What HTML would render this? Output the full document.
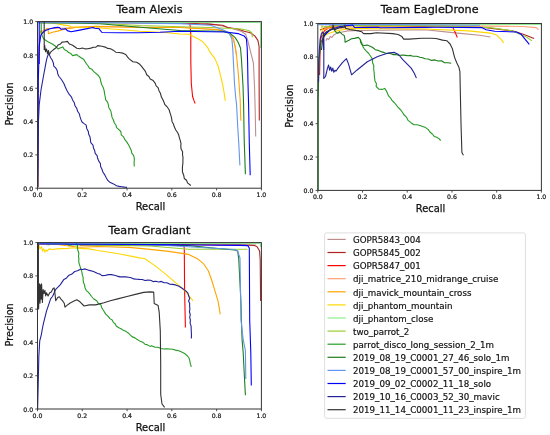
<!DOCTYPE html><html><head><meta charset="utf-8"><style>html,body{margin:0;padding:0;background:#fff;}svg{display:block}</style></head><body>
<svg width="550" height="435" viewBox="0 0 550 435" font-family='"DejaVu Sans","Liberation Sans",sans-serif'>
<rect width="550" height="435" fill="#fff"/>
<g fill="none" stroke-width="1.1" stroke-linejoin="round" stroke-linecap="butt">
<polyline stroke="#bc8f8f" points="38.0,21.9 200.0,22.5 215.0,24.5 225.8,26.7 241.1,31.3 245.7,34.3 247.6,40.0 251.1,53.8 253.4,63.0 254.5,86.0 255.2,110.0 255.7,136.6"/>
<polyline stroke="#b22222" points="38.0,22.0 180.0,22.9 195.3,23.6 210.5,24.4 222.8,25.2 227.3,27.5 238.0,29.0 244.1,31.3 250.3,32.8 254.8,35.9 257.9,40.4 259.1,46.5 259.1,80.0 259.3,120.5"/>
<polyline stroke="#ff0000" points="38.5,22.3 189.7,23.0 190.4,28.0 190.8,35.5 190.8,61.6 191.3,83.5 192.6,96.5 194.1,100.9 195.2,103.5"/>
<polyline stroke="#ffa07a" points="40.0,32.0 48.0,28.5 65.6,28.1 80.9,27.0 100.0,26.6 140.0,27.3 180.0,27.3 218.0,29.5 228.7,32.6 233.3,38.7 235.3,48.0 236.3,55.0"/>
<polyline stroke="#ffa500" points="38.3,187.0 38.3,60.0 39.8,34.4 40.4,31.1 43.0,33.0 46.4,28.9 48.0,28.4 48.5,33.8 52.4,32.2 57.8,31.1 63.3,29.5 68.7,28.4 74.2,27.8 79.6,27.3 96.0,26.2 140.0,27.5 180.0,27.5 218.2,29.7 228.9,32.8 233.5,38.9 235.5,48.0 236.5,55.0 238.4,74.5 240.2,100.0 240.7,118.2 241.0,120.7"/>
<polyline stroke="#ffd700" points="38.5,22.5 52.4,22.9 57.8,24.0 64.4,25.1 68.7,25.6 70.9,26.7 100.0,28.0 140.0,31.3 165.0,32.5 180.0,34.0 189.0,34.3 198.3,38.9 203.0,42.0 207.5,47.3 210.5,52.9 214.8,58.4 218.1,66.0 220.3,74.7 222.5,83.5 224.0,92.2 225.3,100.9"/>
<polyline stroke="#90ee90" points="37.8,22.5 150.0,22.5 260.4,22.5 260.5,30.0 260.5,48.0"/>
<polyline stroke="#9acd32" points="38.5,22.8 100.0,23.3 140.0,25.5 180.0,26.7 210.5,27.5 225.8,28.2 241.1,29.0 248.7,30.5 251.8,32.8 252.5,37.4"/>
<polyline stroke="#259b25" points="41.2,21.8 41.2,33.4 42.5,36.5 43.6,38.7 45.6,40.2 48.5,42.1 52.3,44.0 55.2,46.0 58.1,48.9 60.0,47.9 62.9,46.9 64.3,49.4 66.6,50.7 68.5,52.5 70.9,53.6 72.6,55.6 76.8,54.6 78.8,56.3 81.0,57.7 83.6,59.3 85.2,61.9 86.6,64.0 88.2,66.0 89.4,68.2 91.8,69.2 93.5,71.3 95.9,73.4 98.4,75.5 100.2,78.4 100.8,81.8 101.9,85.0 103.4,87.9 104.2,90.9 104.6,94.0 105.3,97.1 105.7,99.8 107.6,102.1 108.3,104.7 108.8,107.4 110.8,111.0 111.5,114.1 112.0,117.2 113.4,120.0 114.4,123.0 115.9,125.0 116.6,127.6 118.6,129.3 120.8,131.5 121.3,134.8 123.6,136.9 124.9,139.7 126.9,142.1 128.5,144.7 129.9,147.4 131.2,150.2 131.8,153.1 133.7,155.6 134.3,158.5 134.2,161.2 134.1,163.8 134.3,166.5"/>
<polyline stroke="#1b7d1b" points="39.0,22.8 80.0,23.3 100.0,23.8 140.0,27.3 180.0,30.5 222.8,31.3 230.4,33.6 235.0,37.4 238.0,42.0 240.5,48.0 241.5,60.0 243.0,86.0 243.6,105.0 244.2,140.0 245.4,174.2"/>
<polyline stroke="#6495ed" points="38.5,22.8 100.0,22.6 180.0,23.6 210.5,25.2 222.8,29.7 228.9,32.8 231.9,38.9 232.7,48.0 234.5,83.5 235.6,96.5 236.6,105.0 237.7,126.2 238.8,143.6 239.9,165.5"/>
<polyline stroke="#0000ff" points="37.8,187.0 38.3,80.0 39.3,45.3 40.8,35.4 43.0,32.2 45.6,30.5 50.0,28.8 55.0,27.6 58.0,27.2 59.5,27.5 61.0,29.3 65.6,28.7 67.2,30.6 71.0,31.7 77.1,30.6 84.7,29.1 93.1,27.5 94.6,28.3 99.2,28.7 100.0,30.2 102.0,32.5 120.0,32.8 138.6,32.8 160.0,32.3 180.0,31.3 225.8,32.0 238.0,33.6 244.1,35.9 246.4,38.9 247.2,48.0 247.6,61.6 248.0,83.5 248.6,105.0 249.3,143.6 250.2,175.3"/>
<polyline stroke="#0000ff" points="39.2,22.0 39.2,64.0"/>
<polyline stroke="#22229a" points="37.6,187.5 38.5,120.0 39.2,105.0 41.0,90.0 43.4,76.5 46.5,59.8 47.4,56.6 48.6,53.5 49.6,55.6 50.7,57.7 52.3,60.3 53.4,63.1 53.8,66.1 55.9,68.2 57.3,70.8 57.7,73.8 59.0,76.5 60.7,78.5 62.2,80.7 64.0,83.7 65.3,87.0 66.8,90.2 68.5,93.3 70.1,95.3 71.6,97.4 72.6,100.0 74.3,102.7 75.0,105.8 76.8,108.4 77.6,111.3 79.3,113.8 80.0,116.7 80.9,119.4 82.0,122.0 84.1,123.6 86.2,125.1 86.7,128.4 88.3,131.4 88.7,134.3 90.0,136.9 90.4,139.7 90.8,142.7 93.0,145.1 93.5,148.1 94.7,150.7 95.2,153.4 97.1,155.7 97.7,158.5 98.8,161.1 100.4,163.5 100.6,166.5 101.9,169.0 102.9,172.0 104.6,174.6 106.1,177.4 107.8,180.4 110.3,182.6 113.5,183.9 116.5,185.7 119.1,186.4 121.7,186.7 124.4,187.1 127.0,187.4"/>
<polyline stroke="#333333" points="44.2,21.5 44.2,49.8 44.6,45.0 45.6,51.8 46.5,49.0 47.1,51.3 47.5,53.7 48.5,50.5 49.4,54.6 50.9,51.8 53.3,49.8 56.1,47.8 58.1,45.0 60.4,44.1 62.0,42.1 64.3,42.0 67.4,41.4 69.5,44.1 72.6,45.2 74.7,46.7 76.8,48.3 79.6,48.7 82.4,48.0 85.2,48.9 88.0,48.7 90.8,48.1 93.5,47.3 95.9,47.1 97.7,45.6 101.9,46.2 105.3,47.1 107.7,48.4 110.5,48.8 113.3,50.2 115.7,52.2 119.2,52.5 122.6,53.1 126.0,54.8 127.6,57.1 129.5,59.1 132.9,61.7 136.6,62.3 139.8,64.3 141.6,66.4 143.3,68.6 145.4,71.4 146.7,74.7 148.9,76.5 150.2,79.0 153.2,80.6 155.3,83.3 156.1,85.8 158.1,87.6 158.8,90.2 160.5,93.5 161.4,97.1 162.8,99.6 164.0,102.2 164.9,104.7 166.8,106.5 169.0,109.5 170.1,113.1 171.0,115.8 171.7,118.6 172.0,121.4 173.4,124.0 174.4,127.1 175.8,130.0 177.7,132.7 178.8,135.3 179.5,138.1 180.4,140.8 181.0,143.6 180.8,146.4 181.1,149.1 182.6,151.7 182.5,154.5 183.0,157.4 182.9,160.3 182.9,163.2 182.5,166.2 182.4,169.1 182.5,172.0 183.7,175.2 184.3,178.5 186.5,180.3 187.5,182.9 190.8,185.5"/>
</g>
<rect x="37.5" y="21.6" width="223.89999999999998" height="166.6" fill="none" stroke="#333" stroke-width="1"/>
<line x1="37.50" y1="188.2" x2="37.50" y2="190.40" stroke="#3a3a3a" stroke-width="0.9"/>
<line x1="35.30" y1="188.20" x2="37.5" y2="188.20" stroke="#3a3a3a" stroke-width="0.9"/>
<text x="37.50" y="196.80" font-size="6.2" text-anchor="middle" fill="#111" stroke="#222" stroke-width="0.22">0.0</text>
<text x="33.10" y="190.80" font-size="6.2" text-anchor="end" fill="#111" stroke="#222" stroke-width="0.22">0.0</text>
<line x1="82.28" y1="188.2" x2="82.28" y2="190.40" stroke="#3a3a3a" stroke-width="0.9"/>
<line x1="35.30" y1="154.88" x2="37.5" y2="154.88" stroke="#3a3a3a" stroke-width="0.9"/>
<text x="82.28" y="196.80" font-size="6.2" text-anchor="middle" fill="#111" stroke="#222" stroke-width="0.22">0.2</text>
<text x="33.10" y="157.48" font-size="6.2" text-anchor="end" fill="#111" stroke="#222" stroke-width="0.22">0.2</text>
<line x1="127.06" y1="188.2" x2="127.06" y2="190.40" stroke="#3a3a3a" stroke-width="0.9"/>
<line x1="35.30" y1="121.56" x2="37.5" y2="121.56" stroke="#3a3a3a" stroke-width="0.9"/>
<text x="127.06" y="196.80" font-size="6.2" text-anchor="middle" fill="#111" stroke="#222" stroke-width="0.22">0.4</text>
<text x="33.10" y="124.16" font-size="6.2" text-anchor="end" fill="#111" stroke="#222" stroke-width="0.22">0.4</text>
<line x1="171.84" y1="188.2" x2="171.84" y2="190.40" stroke="#3a3a3a" stroke-width="0.9"/>
<line x1="35.30" y1="88.24" x2="37.5" y2="88.24" stroke="#3a3a3a" stroke-width="0.9"/>
<text x="171.84" y="196.80" font-size="6.2" text-anchor="middle" fill="#111" stroke="#222" stroke-width="0.22">0.6</text>
<text x="33.10" y="90.84" font-size="6.2" text-anchor="end" fill="#111" stroke="#222" stroke-width="0.22">0.6</text>
<line x1="216.62" y1="188.2" x2="216.62" y2="190.40" stroke="#3a3a3a" stroke-width="0.9"/>
<line x1="35.30" y1="54.92" x2="37.5" y2="54.92" stroke="#3a3a3a" stroke-width="0.9"/>
<text x="216.62" y="196.80" font-size="6.2" text-anchor="middle" fill="#111" stroke="#222" stroke-width="0.22">0.8</text>
<text x="33.10" y="57.52" font-size="6.2" text-anchor="end" fill="#111" stroke="#222" stroke-width="0.22">0.8</text>
<line x1="261.40" y1="188.2" x2="261.40" y2="190.40" stroke="#3a3a3a" stroke-width="0.9"/>
<line x1="35.30" y1="21.60" x2="37.5" y2="21.60" stroke="#3a3a3a" stroke-width="0.9"/>
<text x="261.40" y="196.80" font-size="6.2" text-anchor="middle" fill="#111" stroke="#222" stroke-width="0.22">1.0</text>
<text x="33.10" y="24.20" font-size="6.2" text-anchor="end" fill="#111" stroke="#222" stroke-width="0.22">1.0</text>
<text x="149.45" y="13.40" font-size="11.2" text-anchor="middle" fill="#111" stroke="#111" stroke-width="0.3">Team Alexis</text>
<text x="150.45" y="209.70" font-size="9.9" text-anchor="middle" fill="#111" stroke="#111" stroke-width="0.25">Recall</text>
<text transform="translate(12.90,104.00) rotate(-90)" font-size="9.7" text-anchor="middle" fill="#111" stroke="#111" stroke-width="0.25">Precision</text>
<g fill="none" stroke-width="1.1" stroke-linejoin="round" stroke-linecap="butt">
<polyline stroke="#bc8f8f" points="325.9,40.7 327.0,38.5 328.6,39.6 330.3,36.4 331.9,37.5 333.5,35.3 336.8,33.1 342.3,32.0 347.7,30.9 360.0,30.5 400.0,30.0 425.0,29.8 457.7,33.1 479.5,35.3 490.5,37.0"/>
<polyline stroke="#b22222" points="320.0,30.0 330.0,26.0 360.0,25.2 420.0,25.5 480.0,27.0 512.3,30.9 523.2,34.2 534.1,38.5"/>
<polyline stroke="#ff0000" points="319.6,75.0 320.0,54.3 320.9,38.1 324.3,30.9 328.1,28.2 333.5,27.1 342.3,26.0 353.2,25.2 364.1,26.0 400.0,26.2 453.0,27.0 453.4,28.7 455.5,33.1 457.3,37.5"/>
<polyline stroke="#ffa07a" points="325.9,25.5 325.9,29.0 328.1,28.7 360.0,27.5 425.0,25.5 490.5,26.1 523.2,26.5 536.3,27.6 538.5,29.8"/>
<polyline stroke="#ffa500" points="322.0,30.0 330.0,27.0 360.0,25.8 420.0,25.9 460.0,26.5"/>
<polyline stroke="#ffd700" points="322.1,24.4 322.1,34.2 324.8,36.4 327.0,34.2 331.4,32.5 334.6,31.5 339.0,30.4 345.5,29.3 353.2,28.4 375.0,28.8 425.0,29.0 468.6,30.9 490.5,33.1 497.0,35.3 501.4,39.6 503.6,42.9"/>
<polyline stroke="#90ee90" points="318.0,24.5 400.0,24.5 540.9,24.5"/>
<polyline stroke="#9acd32" points="321.0,27.0 340.0,25.5 420.0,25.6 490.5,27.6 512.3,30.9 525.4,36.4 531.9,40.7"/>
<polyline stroke="#259b25" points="360.2,39.3 361.2,41.8 362.3,44.3 363.0,46.9 364.3,48.8 365.8,50.6 368.7,53.5 370.6,56.3 372.5,59.1 372.5,62.5 373.8,65.7 373.7,68.9 374.1,72.0 374.3,75.2 374.6,78.1 375.0,80.9 376.4,83.6 376.2,86.5 379.1,89.3 382.0,89.4 384.7,88.4 386.6,91.2 387.5,93.6 388.6,95.9 390.4,97.8 392.0,100.4 394.2,102.5 396.2,104.8 397.9,107.2 400.8,110.0 402.4,112.2 403.7,114.5 406.4,117.1 408.1,120.4 410.9,122.7 413.9,124.7 417.0,124.8 419.9,125.5 422.7,126.5 425.5,127.6 428.1,129.4 429.9,132.0 432.3,134.0 434.3,136.4 436.8,137.3 439.0,138.6 440.7,140.7"/>
<polyline stroke="#1b7d1b" points="318.2,190.0 318.2,100.0 319.0,60.0 321.0,42.0 326.0,33.0 328.1,31.1 330.3,29.5 333.0,28.5 334.6,30.1 336.2,32.5 337.8,33.3 339.4,31.7 342.0,34.1 344.2,35.5 344.9,38.8 345.1,42.2 348.9,40.3 351.5,38.7 354.5,38.4 358.3,37.4 360.2,39.3 360.6,42.3 362.1,45.0 364.6,45.5 367.2,45.1 369.6,45.9 372.7,47.5 375.3,49.7 378.2,50.4 380.9,51.6 383.8,52.4 386.6,53.5 389.8,53.2 392.8,54.6 396.0,54.4 399.1,55.5 402.3,55.0 405.5,55.4 408.0,55.7 410.6,55.4 413.0,56.3 416.6,56.2 420.0,57.2 422.6,57.8 425.0,58.8 428.3,59.0 431.5,60.4 434.9,59.9 438.1,61.0 441.5,60.8 444.5,62.8 447.9,62.7 451.2,63.2"/>
<polyline stroke="#6495ed" points="318.5,24.6 400.0,24.6 480.0,25.2"/>
<polyline stroke="#0000ff" points="323.7,50.0 323.7,36.0 330.0,30.0 340.0,26.5 352.7,25.0 354.5,27.5 378.0,27.3 380.0,27.8 425.0,27.4 434.5,27.3 440.0,27.2 481.7,27.6 486.1,29.8 494.8,31.3 516.6,32.0 521.0,34.2 525.4,39.6 529.3,44.4"/>
<polyline stroke="#22229a" points="318.5,82.0 318.8,60.0 319.2,51.4 320.2,38.8 321.5,33.5 322.6,32.0 323.5,34.0 323.8,50.0 323.8,78.5 325.5,76.5 327.5,68.1 328.6,65.0 329.6,70.2 330.7,67.0 331.7,71.2 332.8,68.1 333.8,72.3 334.9,70.2 335.9,71.2 338.0,68.1 342.2,62.9 346.4,58.7 348.5,63.9 351.6,74.8 356.8,70.2 367.3,61.8 377.7,56.6 388.2,53.0 394.4,52.4 398.6,54.5 402.8,59.7 407.0,63.9 411.2,68.1 414.3,73.3 416.4,78.1"/>
<polyline stroke="#333333" points="321.5,50.0 323.2,35.3 325.9,32.0 329.2,30.4 332.5,29.3 333.0,24.9 334.6,29.8 340.1,27.6 344.5,27.1 345.0,25.0 345.5,28.2 350.0,29.5 358.2,30.9 361.8,31.8 363.6,33.6 370.9,33.6 376.4,32.7 392.7,33.6 398.2,34.5 401.8,36.4 403.6,39.1 409.1,39.1 421.8,38.2 430.9,38.2 436.0,38.5 442.5,40.1 446.8,40.7 450.1,44.0 452.3,48.4 454.5,57.1 456.6,62.5 458.8,66.9 459.9,71.3 460.5,100.0 461.0,123.3 461.9,152.4 463.4,155.3"/>
</g>
<rect x="317.8" y="23.5" width="223.59999999999997" height="166.9" fill="none" stroke="#333" stroke-width="1"/>
<line x1="317.80" y1="190.4" x2="317.80" y2="192.60" stroke="#3a3a3a" stroke-width="0.9"/>
<line x1="315.60" y1="190.40" x2="317.8" y2="190.40" stroke="#3a3a3a" stroke-width="0.9"/>
<text x="317.80" y="199.00" font-size="6.2" text-anchor="middle" fill="#111" stroke="#222" stroke-width="0.22">0.0</text>
<text x="313.40" y="193.00" font-size="6.2" text-anchor="end" fill="#111" stroke="#222" stroke-width="0.22">0.0</text>
<line x1="362.52" y1="190.4" x2="362.52" y2="192.60" stroke="#3a3a3a" stroke-width="0.9"/>
<line x1="315.60" y1="157.02" x2="317.8" y2="157.02" stroke="#3a3a3a" stroke-width="0.9"/>
<text x="362.52" y="199.00" font-size="6.2" text-anchor="middle" fill="#111" stroke="#222" stroke-width="0.22">0.2</text>
<text x="313.40" y="159.62" font-size="6.2" text-anchor="end" fill="#111" stroke="#222" stroke-width="0.22">0.2</text>
<line x1="407.24" y1="190.4" x2="407.24" y2="192.60" stroke="#3a3a3a" stroke-width="0.9"/>
<line x1="315.60" y1="123.64" x2="317.8" y2="123.64" stroke="#3a3a3a" stroke-width="0.9"/>
<text x="407.24" y="199.00" font-size="6.2" text-anchor="middle" fill="#111" stroke="#222" stroke-width="0.22">0.4</text>
<text x="313.40" y="126.24" font-size="6.2" text-anchor="end" fill="#111" stroke="#222" stroke-width="0.22">0.4</text>
<line x1="451.96" y1="190.4" x2="451.96" y2="192.60" stroke="#3a3a3a" stroke-width="0.9"/>
<line x1="315.60" y1="90.26" x2="317.8" y2="90.26" stroke="#3a3a3a" stroke-width="0.9"/>
<text x="451.96" y="199.00" font-size="6.2" text-anchor="middle" fill="#111" stroke="#222" stroke-width="0.22">0.6</text>
<text x="313.40" y="92.86" font-size="6.2" text-anchor="end" fill="#111" stroke="#222" stroke-width="0.22">0.6</text>
<line x1="496.68" y1="190.4" x2="496.68" y2="192.60" stroke="#3a3a3a" stroke-width="0.9"/>
<line x1="315.60" y1="56.88" x2="317.8" y2="56.88" stroke="#3a3a3a" stroke-width="0.9"/>
<text x="496.68" y="199.00" font-size="6.2" text-anchor="middle" fill="#111" stroke="#222" stroke-width="0.22">0.8</text>
<text x="313.40" y="59.48" font-size="6.2" text-anchor="end" fill="#111" stroke="#222" stroke-width="0.22">0.8</text>
<line x1="541.40" y1="190.4" x2="541.40" y2="192.60" stroke="#3a3a3a" stroke-width="0.9"/>
<line x1="315.60" y1="23.50" x2="317.8" y2="23.50" stroke="#3a3a3a" stroke-width="0.9"/>
<text x="541.40" y="199.00" font-size="6.2" text-anchor="middle" fill="#111" stroke="#222" stroke-width="0.22">1.0</text>
<text x="313.40" y="26.10" font-size="6.2" text-anchor="end" fill="#111" stroke="#222" stroke-width="0.22">1.0</text>
<text x="429.60" y="13.40" font-size="11.2" text-anchor="middle" fill="#111" stroke="#111" stroke-width="0.3">Team EagleDrone</text>
<text x="430.60" y="211.90" font-size="9.9" text-anchor="middle" fill="#111" stroke="#111" stroke-width="0.25">Recall</text>
<text transform="translate(293.20,106.05) rotate(-90)" font-size="9.7" text-anchor="middle" fill="#111" stroke="#111" stroke-width="0.25">Precision</text>
<g fill="none" stroke-width="1.1" stroke-linejoin="round" stroke-linecap="butt">
<polyline stroke="#bc8f8f" points="38.0,243.2 200.0,243.5 256.0,245.0"/>
<polyline stroke="#b22222" points="38.5,243.6 150.0,244.3 200.0,244.8 250.0,245.2 254.0,245.5 256.3,246.2 257.4,247.2 259.6,251.1 260.2,259.8 260.6,299.1 260.7,301.0"/>
<polyline stroke="#ff0000" points="80.0,245.0 120.0,244.5 183.8,243.5 184.3,250.0 184.6,290.0 185.4,327.6"/>
<polyline stroke="#ffa500" points="40.0,244.0 55.9,244.3 79.0,247.3 97.7,246.5 129.1,247.4 145.0,248.9 166.8,251.1 188.6,254.4 197.4,258.7 203.9,264.2 208.3,270.7 211.5,279.5 214.8,290.4 218.1,301.3 220.3,314.4"/>
<polyline stroke="#ffd700" points="38.5,243.0 39.9,248.9 41.5,246.7 42.6,251.1 43.7,248.9 44.8,252.2 45.9,250.0 47.0,251.1 49.2,248.9 52.5,249.5 56.8,248.9 67.7,248.4 73.2,247.8 78.6,248.4 89.5,248.9 97.7,250.5 118.6,253.7 139.5,257.9 145.0,258.7 155.9,266.4 166.8,275.1 175.5,282.7 182.1,288.2 187.5,293.6 190.8,298.0 193.0,300.8"/>
<polyline stroke="#90ee90" points="38.0,243.5 150.0,243.5 260.4,243.5 260.5,247.0"/>
<polyline stroke="#9acd32" points="45.9,243.5 48.1,245.1 51.4,244.0 80.0,244.8 150.0,246.0 188.6,249.3 247.5,249.3"/>
<polyline stroke="#259b25" points="76.5,243.0 77.5,245.4 77.4,248.0 77.9,250.5 78.9,253.2 78.5,256.1 78.9,258.9 78.7,261.7 79.4,264.3 80.2,266.8 81.0,269.4 81.9,271.9 82.2,274.6 83.1,277.1 83.1,279.8 83.5,282.5 84.6,285.1 85.0,287.8 86.2,290.3 88.2,292.2 90.0,294.2 91.5,296.5 93.8,299.0 96.7,300.7 98.3,303.3 100.9,304.9 102.0,308.3 104.0,311.2 105.7,314.1 108.2,316.4 109.9,318.6 112.2,320.0 113.3,322.3 115.3,324.0 116.4,326.3 118.9,327.8 121.4,329.0 123.8,330.6 126.3,331.6 128.5,333.2 130.4,335.1 132.3,336.9 134.6,337.6 136.5,339.0 139.5,340.9 142.8,342.2 144.9,344.2 147.6,344.9 150.0,346.4 151.5,345.7 154.6,347.1 158.1,347.3 160.9,348.5 163.8,349.0 166.8,348.8 169.7,349.0 172.7,349.3 175.5,350.1 178.9,350.8 182.1,352.3 185.1,353.8 187.5,356.0 189.0,358.0 189.7,360.4 190.3,363.7 191.3,366.9"/>
<polyline stroke="#1b7d1b" points="40.0,243.0 60.0,243.2 66.6,243.5 68.8,245.1 76.5,244.5 145.0,244.8 188.6,245.6 210.5,247.8 234.5,250.0 237.7,251.1 238.8,259.8 239.9,281.6 241.0,303.5 241.4,320.0 242.1,339.6 243.2,352.7 244.3,374.5 245.4,395.3"/>
<polyline stroke="#6495ed" points="40.0,243.5 150.0,244.5 234.5,249.5 237.7,251.1 240.0,258.0 241.0,320.0 243.2,339.6 245.4,350.5 245.8,378.9"/>
<polyline stroke="#0000ff" points="38.5,244.0 100.0,244.2 150.0,244.6 200.0,245.0 240.0,245.4 247.8,245.6 249.3,248.0 249.7,320.0 250.8,352.7 251.3,385.5"/>
<polyline stroke="#22229a" points="37.6,409.0 38.3,380.0 38.8,357.0 39.7,341.1 41.3,334.8 42.4,328.5 43.4,323.7 46.5,311.2 50.7,298.6 52.5,296.5 53.7,294.1 54.6,291.5 55.9,289.2 58.2,286.9 60.4,284.6 62.2,281.9 63.9,279.4 66.6,277.9 68.5,275.6 71.9,274.1 74.7,271.5 77.5,270.8 80.0,269.4 82.6,269.5 85.2,268.9 89.4,270.4 93.5,271.5 95.6,272.5 97.7,273.5 100.0,274.1 101.9,275.6 105.1,275.5 108.2,274.6 111.3,274.6 114.4,275.2 117.1,276.1 119.9,276.9 122.8,276.7 125.6,276.9 128.4,277.2 131.2,277.7 133.8,278.9 136.7,279.2 139.5,279.4 142.3,279.5 145.0,280.5 147.8,280.1 150.5,280.3 153.1,281.6 155.9,281.2 158.6,282.0 161.4,281.4 164.0,282.8 166.8,282.7 169.5,284.1 172.5,284.4 175.5,284.9 178.9,286.3 182.1,288.2 184.3,289.9 186.5,291.5 188.0,293.4 188.6,295.8 189.7,298.3 188.6,301.0 189.7,303.5 189.6,306.3 189.9,309.0 189.4,311.8 190.3,314.5 189.7,317.3 190.4,320.0 190.1,323.1 191.1,326.1 191.2,329.2 191.3,332.3 191.5,335.4 191.3,338.5"/>
<polyline stroke="#333333" points="38.4,243.0 38.4,290.0 38.6,309.0 39.2,290.0 39.6,283.9 40.0,303.2 40.8,284.7 41.2,299.1 41.6,283.9 42.4,302.4 43.2,289.5 44.0,293.5 44.9,290.3 45.7,295.9 46.5,292.7 48.1,295.9 49.7,292.7 51.3,291.9 52.9,288.7 54.1,287.9 54.9,292.7 55.7,300.8 57.7,297.5 59.3,296.7 61.0,299.1 62.6,300.8 64.2,303.2 65.0,307.2 66.6,305.6 69.8,303.2 73.0,301.6 76.8,299.7 80.0,301.8 84.1,306.0 89.4,304.9 95.6,304.9 104.0,302.8 110.3,300.7 118.6,298.6 127.0,296.5 135.4,294.4 143.7,292.4 150.0,291.9 153.7,292.1 154.2,303.5 158.1,305.6 159.2,312.2 160.3,330.9 160.7,363.6 160.7,394.2 162.0,404.0 164.6,407.3"/>
</g>
<rect x="37.5" y="242.6" width="223.89999999999998" height="166.4" fill="none" stroke="#333" stroke-width="1"/>
<line x1="37.50" y1="409.0" x2="37.50" y2="411.20" stroke="#3a3a3a" stroke-width="0.9"/>
<line x1="35.30" y1="409.00" x2="37.5" y2="409.00" stroke="#3a3a3a" stroke-width="0.9"/>
<text x="37.50" y="417.60" font-size="6.2" text-anchor="middle" fill="#111" stroke="#222" stroke-width="0.22">0.0</text>
<text x="33.10" y="411.60" font-size="6.2" text-anchor="end" fill="#111" stroke="#222" stroke-width="0.22">0.0</text>
<line x1="82.28" y1="409.0" x2="82.28" y2="411.20" stroke="#3a3a3a" stroke-width="0.9"/>
<line x1="35.30" y1="375.72" x2="37.5" y2="375.72" stroke="#3a3a3a" stroke-width="0.9"/>
<text x="82.28" y="417.60" font-size="6.2" text-anchor="middle" fill="#111" stroke="#222" stroke-width="0.22">0.2</text>
<text x="33.10" y="378.32" font-size="6.2" text-anchor="end" fill="#111" stroke="#222" stroke-width="0.22">0.2</text>
<line x1="127.06" y1="409.0" x2="127.06" y2="411.20" stroke="#3a3a3a" stroke-width="0.9"/>
<line x1="35.30" y1="342.44" x2="37.5" y2="342.44" stroke="#3a3a3a" stroke-width="0.9"/>
<text x="127.06" y="417.60" font-size="6.2" text-anchor="middle" fill="#111" stroke="#222" stroke-width="0.22">0.4</text>
<text x="33.10" y="345.04" font-size="6.2" text-anchor="end" fill="#111" stroke="#222" stroke-width="0.22">0.4</text>
<line x1="171.84" y1="409.0" x2="171.84" y2="411.20" stroke="#3a3a3a" stroke-width="0.9"/>
<line x1="35.30" y1="309.16" x2="37.5" y2="309.16" stroke="#3a3a3a" stroke-width="0.9"/>
<text x="171.84" y="417.60" font-size="6.2" text-anchor="middle" fill="#111" stroke="#222" stroke-width="0.22">0.6</text>
<text x="33.10" y="311.76" font-size="6.2" text-anchor="end" fill="#111" stroke="#222" stroke-width="0.22">0.6</text>
<line x1="216.62" y1="409.0" x2="216.62" y2="411.20" stroke="#3a3a3a" stroke-width="0.9"/>
<line x1="35.30" y1="275.88" x2="37.5" y2="275.88" stroke="#3a3a3a" stroke-width="0.9"/>
<text x="216.62" y="417.60" font-size="6.2" text-anchor="middle" fill="#111" stroke="#222" stroke-width="0.22">0.8</text>
<text x="33.10" y="278.48" font-size="6.2" text-anchor="end" fill="#111" stroke="#222" stroke-width="0.22">0.8</text>
<line x1="261.40" y1="409.0" x2="261.40" y2="411.20" stroke="#3a3a3a" stroke-width="0.9"/>
<line x1="35.30" y1="242.60" x2="37.5" y2="242.60" stroke="#3a3a3a" stroke-width="0.9"/>
<text x="261.40" y="417.60" font-size="6.2" text-anchor="middle" fill="#111" stroke="#222" stroke-width="0.22">1.0</text>
<text x="33.10" y="245.20" font-size="6.2" text-anchor="end" fill="#111" stroke="#222" stroke-width="0.22">1.0</text>
<text x="149.45" y="234.30" font-size="11.2" text-anchor="middle" fill="#111" stroke="#111" stroke-width="0.3">Team Gradiant</text>
<text x="150.45" y="430.50" font-size="9.9" text-anchor="middle" fill="#111" stroke="#111" stroke-width="0.25">Recall</text>
<text transform="translate(12.90,324.90) rotate(-90)" font-size="9.7" text-anchor="middle" fill="#111" stroke="#111" stroke-width="0.25">Precision</text>
<rect x="324.6" y="232.9" width="200.8" height="185.5" rx="2" fill="#fff" stroke="#d6d6d6" stroke-width="0.8"/>
<line x1="327.5" y1="239.40" x2="345.7" y2="239.40" stroke="#bc8f8f" stroke-width="1.2"/>
<text x="353" y="243.10" font-size="8.7" fill="#111" stroke="#111" stroke-width="0.18">GOPR5843_004</text>
<line x1="327.5" y1="252.50" x2="345.7" y2="252.50" stroke="#b22222" stroke-width="1.2"/>
<text x="353" y="256.20" font-size="8.7" fill="#111" stroke="#111" stroke-width="0.18">GOPR5845_002</text>
<line x1="327.5" y1="265.60" x2="345.7" y2="265.60" stroke="#ff0000" stroke-width="1.2"/>
<text x="353" y="269.30" font-size="8.7" fill="#111" stroke="#111" stroke-width="0.18">GOPR5847_001</text>
<line x1="327.5" y1="278.70" x2="345.7" y2="278.70" stroke="#ffa07a" stroke-width="1.2"/>
<text x="353" y="282.40" font-size="8.7" fill="#111" stroke="#111" stroke-width="0.18">dji_matrice_210_midrange_cruise</text>
<line x1="327.5" y1="291.80" x2="345.7" y2="291.80" stroke="#ffa500" stroke-width="1.2"/>
<text x="353" y="295.50" font-size="8.7" fill="#111" stroke="#111" stroke-width="0.18">dji_mavick_mountain_cross</text>
<line x1="327.5" y1="304.90" x2="345.7" y2="304.90" stroke="#ffd700" stroke-width="1.2"/>
<text x="353" y="308.60" font-size="8.7" fill="#111" stroke="#111" stroke-width="0.18">dji_phantom_mountain</text>
<line x1="327.5" y1="318.00" x2="345.7" y2="318.00" stroke="#90ee90" stroke-width="1.2"/>
<text x="353" y="321.70" font-size="8.7" fill="#111" stroke="#111" stroke-width="0.18">dji_phantom_close</text>
<line x1="327.5" y1="331.10" x2="345.7" y2="331.10" stroke="#9acd32" stroke-width="1.2"/>
<text x="353" y="334.80" font-size="8.7" fill="#111" stroke="#111" stroke-width="0.18">two_parrot_2</text>
<line x1="327.5" y1="344.20" x2="345.7" y2="344.20" stroke="#259b25" stroke-width="1.2"/>
<text x="353" y="347.90" font-size="8.7" fill="#111" stroke="#111" stroke-width="0.18">parrot_disco_long_session_2_1m</text>
<line x1="327.5" y1="357.30" x2="345.7" y2="357.30" stroke="#1b7d1b" stroke-width="1.2"/>
<text x="353" y="361.00" font-size="8.7" fill="#111" stroke="#111" stroke-width="0.18">2019_08_19_C0001_27_46_solo_1m</text>
<line x1="327.5" y1="370.40" x2="345.7" y2="370.40" stroke="#6495ed" stroke-width="1.2"/>
<text x="353" y="374.10" font-size="8.7" fill="#111" stroke="#111" stroke-width="0.18">2019_08_19_C0001_57_00_inspire_1m</text>
<line x1="327.5" y1="383.50" x2="345.7" y2="383.50" stroke="#0000ff" stroke-width="1.2"/>
<text x="353" y="387.20" font-size="8.7" fill="#111" stroke="#111" stroke-width="0.18">2019_09_02_C0002_11_18_solo</text>
<line x1="327.5" y1="396.60" x2="345.7" y2="396.60" stroke="#22229a" stroke-width="1.2"/>
<text x="353" y="400.30" font-size="8.7" fill="#111" stroke="#111" stroke-width="0.18">2019_10_16_C0003_52_30_mavic</text>
<line x1="327.5" y1="409.70" x2="345.7" y2="409.70" stroke="#333333" stroke-width="1.2"/>
<text x="353" y="413.40" font-size="8.7" fill="#111" stroke="#111" stroke-width="0.18">2019_11_14_C0001_11_23_inspire_1m</text>
</svg></body></html>
